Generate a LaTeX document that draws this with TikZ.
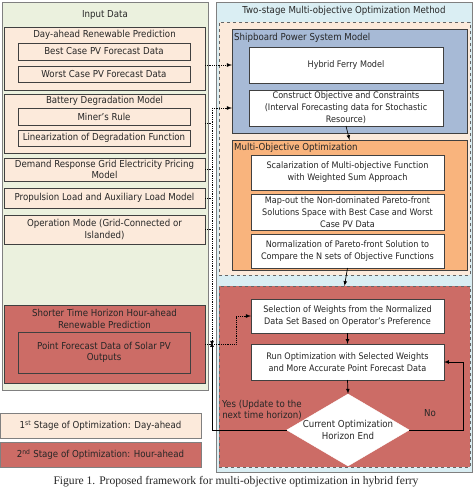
\documentclass[tikz,border=0pt]{standalone}
\usepackage{fontspec}
\usepackage{tikz}
\setmainfont{DejaVu Sans Condensed}
\newfontfamily\capfont{Liberation Serif}
\usetikzlibrary{shapes.geometric}

\definecolor{inputbg}{RGB}{235,241,222}
\definecolor{methodbg}{RGB}{218,238,243}
\definecolor{dayfill}{RGB}{252,234,219}
\definecolor{hourfill}{RGB}{204,108,102}
\definecolor{shipfill}{RGB}{167,186,214}
\definecolor{multifill}{RGB}{249,180,125}

\begin{document}
\begin{tikzpicture}[x=1pt,y=-1pt,font=\fontsize{9.6}{11.5}\selectfont,text=black!85]
	\tikzstyle{panel}=[draw=black!50, line width=0.8pt, inner sep=0pt, outer sep=0pt]
	\tikzstyle{stage}=[draw=black!60, dashed, line width=0.7pt, inner sep=0pt, outer sep=0pt]
	\tikzstyle{group}=[draw=black!75, line width=0.7pt, inner sep=0pt, outer sep=0pt]
	\tikzstyle{item}=[draw=black!75, line width=0.7pt, inner sep=0pt, outer sep=0pt, align=center]
	\tikzstyle{task}=[item, fill=white, font=\fontsize{9}{12}\selectfont]
	\tikzstyle{flow}=[-latex, line width=0.7pt]
	\tikzstyle{feed}=[densely dotted, line width=0.8pt]
	\useasboundingbox (0,0) rectangle (474,489);
	% input data column
	\node [panel, fill=inputbg, minimum width=206pt, minimum height=388pt] (input) at (105,196) {};
	\node (inputtitle) at (105,15) {Input Data};
	\node [group, fill=dayfill, minimum width=201pt, minimum height=63pt] (dayahead) at (104.5,58.5) {};
	\node (daytitle) at (104.5,35) {Day-ahead Renewable Prediction};
	\node [item, fill=dayfill, minimum width=172pt, minimum height=17pt] (best) at (104,51.5) {Best Case PV Forecast Data};
	\node [item, fill=dayfill, minimum width=172pt, minimum height=16pt] (worst) at (104,74) {Worst Case PV Forecast Data};
	\node [group, fill=dayfill, minimum width=201pt, minimum height=59pt] (battery) at (104.5,123.5) {};
	\node (battitle) at (104.5,101) {Battery Degradation Model};
	\node [item, fill=dayfill, minimum width=172pt, minimum height=17pt] (miner) at (104,116.5) {Miner's Rule};
	\node [item, fill=dayfill, minimum width=172pt, minimum height=16pt] (linear) at (104,138) {Linearization of Degradation Function};
	\node [item, fill=dayfill, minimum width=201pt, minimum height=23pt] (demand) at (104.5,169.5) {Demand Response Grid Electricity Pricing\\Model};
	\node [item, fill=dayfill, minimum width=201pt, minimum height=20pt] (propulsion) at (104.5,198) {Propulsion Load and Auxiliary Load Model};
	\node [item, fill=dayfill, minimum width=201pt, minimum height=29pt] (opmode) at (104.5,229.5) {Operation Mode (Grid-Connected or\\Islanded)};
	\node [group, fill=hourfill, minimum width=201pt, minimum height=78pt] (shorter) at (104.5,344) {};
	\node [align=center] (shortitle) at (104.5,319) {Shorter Time Horizon Hour-ahead\\Renewable Prediction};
	\node [item, fill=hourfill, minimum width=172pt, minimum height=41pt] (point) at (104,352.5) {Point Forecast Data of Solar PV\\Outputs};
	% legend
	\node [item, draw=black!50, fill=dayfill, minimum width=201pt, minimum height=25pt] (legone) at (100.5,425.5) {1\textsuperscript{st} Stage of Optimization: Day-ahead};
	\node [item, draw=black!50, fill=hourfill, minimum width=201pt, minimum height=25pt] (legtwo) at (100.5,454.5) {2\textsuperscript{nd} Stage of Optimization: Hour-ahead};
	% optimization method column
	\node [panel, fill=methodbg, minimum width=256pt, minimum height=470pt] (method) at (344,237) {};
	\node (methodtitle) at (344,11) {Two-stage Multi-objective Optimization Method};
	\node [stage, fill=dayfill, minimum width=251pt, minimum height=253pt] (stageone) at (344.5,148.5) {};
	\node [group, fill=shipfill, minimum width=235pt, minimum height=104pt] (shipboard) at (349.5,81) {};
	\node [anchor=west, inner sep=0pt] (shiptitle) at (234,38) {Shipboard Power System Model};
	\node [task, minimum width=194pt, minimum height=36pt] (ferry) at (346,65) {Hybrid Ferry Model};
	\node [task, minimum width=194pt, minimum height=36pt] (construct) at (346,108) {Construct Objective and Constraints\\(Interval Forecasting data for Stochastic\\Resource)};
	\node [group, fill=multifill, minimum width=235pt, minimum height=130pt] (multi) at (349.5,205) {};
	\node [anchor=west, inner sep=0pt] (multititle) at (234,148) {Multi-Objective Optimization};
	\node [task, minimum width=193pt, minimum height=35pt] (scalar) at (347.5,172.5) {Scalarization of Multi-objective Function\\with Weighted Sum Approach};
	\node [task, minimum width=193pt, minimum height=36pt] (mapout) at (347.5,212) {Map-out the Non-dominated Pareto-front\\Solutions Space with Best Case and Worst\\Case PV Data};
	\node [task, minimum width=193pt, minimum height=34pt] (normal) at (347.5,251) {Normalization of Pareto-front Solution to\\Compare the N sets of Objective Functions};
	\node [stage, fill=hourfill, minimum width=251pt, minimum height=181pt] (stagetwo) at (344.5,376.5) {};
	\node [task, minimum width=193pt, minimum height=34pt] (select) at (347.5,316) {Selection of Weights from the Normalized\\Data Set Based on Operator's Preference};
	\node [task, minimum width=193pt, minimum height=36pt] (run) at (347.5,362) {Run Optimization with Selected Weights\\and More Accurate Point Forecast Data};
	\node [diamond, draw=white, fill=white, aspect=1.7, inner sep=0pt, align=center, minimum width=121pt, minimum height=71pt] (horizon) at (348,430) {Current Optimization\\Horizon End};
	\node (nolabel) at (430,413) {No};
	\node [align=center] (yeslabel) at (262,410) {Yes (Update to the\\next time horizon)};
	\node [font=\capfont\fontsize{11.6}{13}\selectfont] (caption) at (236,481.5) {Figure 1. Proposed framework for multi-objective optimization in hybrid ferry};
	\coordinate (jn) at (212,344);
	% connectors
	\draw [flow] (construct.south) -- (multi.north);
	\draw [flow] (normal.south) -- (stagetwo.north);
	\draw [flow] (select.south) -- (run.north);
	\draw [flow] (run.south) -- (horizon.north);
	\draw [flow] (horizon.east) -- (463,430) |- (run.east);
	\draw [flow] (horizon.west) -| ([yshift=2pt]jn);
	\draw [feed, -latex] (dayahead.east |- 0,65) -- (shipboard.west |- 0,65);
	\draw [feed, -latex] (jn |- construct) -- (construct -| shipboard.west);
	\draw [feed, -latex] (jn |- construct) -- ([yshift=-2pt]jn);
	\foreach \src in {battery,demand,propulsion,opmode}
		\draw [feed] (\src.east) -- (\src -| jn);
	\draw [feed, -latex] (shorter.east) -- (236,344) |- (select.west);
\end{tikzpicture}
\end{document}
